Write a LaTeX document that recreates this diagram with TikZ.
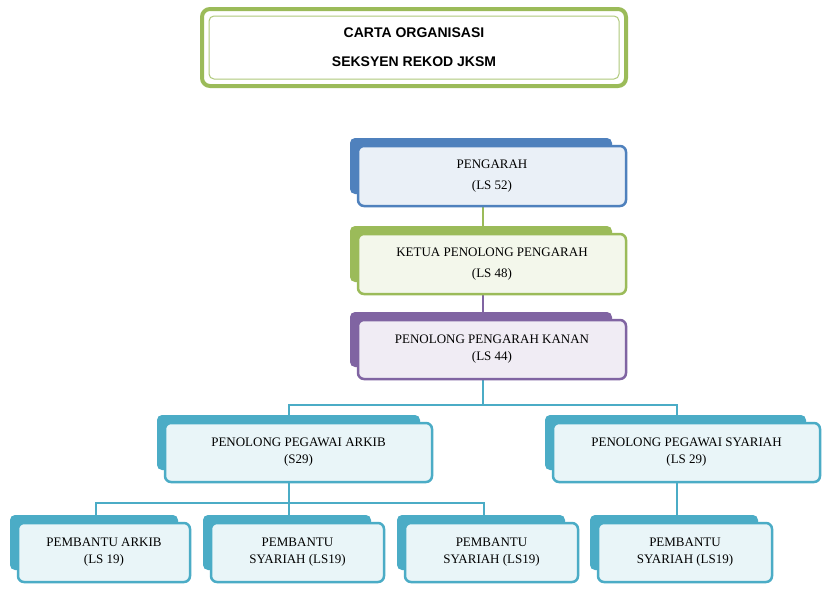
\documentclass[tikz,border=0pt]{standalone}
\usepackage{fontspec}
\setmainfont{Liberation Serif}
\newfontfamily\titlefont{Liberation Sans}
\definecolor{cblue}{HTML}{4F81BD}
\definecolor{cgreen}{HTML}{9BBB59}
\definecolor{cpurple}{HTML}{8064A2}
\definecolor{cteal}{HTML}{4BACC6}
\begin{document}
\begin{tikzpicture}[x=1pt,y=-1pt,
  lbl/.style={align=center,font=\fontsize{13}{17}\selectfont},
  conn/.style={line width=2.5pt}]
\useasboundingbox (0,0) rectangle (833,597);
\fill[white] (0,0) rectangle (833,597);
% title
\draw[cgreen,line width=4pt,rounded corners=8pt] (202,9) rectangle (626,86);
\draw[cgreen!80,line width=1pt,rounded corners=5pt] (209,16) rectangle (619,79);
\node[font=\titlefont\bfseries\fontsize{14}{17}\selectfont] (t1) at (414,33) {CARTA ORGANISASI};
\node[font=\titlefont\bfseries\fontsize{14}{17}\selectfont] (t2) at (414,62) {SEKSYEN REKOD JKSM};
% box macro
\newcommand{\obox}[8]{% name, color, bx1,by1,bx2,by2, fx1/fy1/fx2/fy2 offset, text
  \fill[#2,rounded corners=5pt] (#3,#4) rectangle (#5,#6);
  \filldraw[#2!12,draw=#2,line width=2.5pt,rounded corners=6pt] (#3+8,#4+8) rectangle (#5+#7,#6+12);
  \node[lbl] (#1) at ({(#3+8+#5+#7)/2},{(#4+8+#6+12)/2}) {#8};
  \coordinate (#1t) at ({(#3+8+#5+#7)/2},#4+8);
  \coordinate (#1b) at ({(#3+8+#5+#7)/2},#6+12);
}
\draw[cgreen,conn] (483,206) -- (483,233);
\draw[cpurple,conn] (483,294) -- (483,320);
\draw[cteal,conn] (483,379) -- (483,405);
\draw[cteal,conn] (289,415) -- (289,405) -- (677,405) -- (677,415);
\draw[cteal,conn] (289,482) -- (289,503);
\draw[cteal,conn] (96,515) -- (96,503) -- (484,503) -- (484,515);
\draw[cteal,conn] (289,503) -- (289,515);
\draw[cteal,conn] (677,482) -- (677,515);
\obox{p}{cblue}{350}{138}{612}{194}{14}{PENGARAH\\[4pt](LS 52)}
\obox{k}{cgreen}{350}{226}{612}{282}{14}{KETUA PENOLONG PENGARAH\\[4pt](LS 48)}
\obox{pk}{cpurple}{350}{312}{612}{367}{14}{PENOLONG PENGARAH KANAN\\(LS 44)}
\obox{ppa}{cteal}{157}{415}{420}{470}{12}{PENOLONG PEGAWAI ARKIB\\(S29)}
\obox{pps}{cteal}{545}{415}{806}{470}{14}{PENOLONG PEGAWAI SYARIAH\\(LS 29)}
\obox{b1}{cteal}{10}{515}{178}{570}{12}{PEMBANTU ARKIB\\(LS 19)}
\obox{b2}{cteal}{203}{515}{371}{570}{13}{PEMBANTU\\SYARIAH (LS19)}
\obox{b3}{cteal}{397}{515}{565}{570}{13}{PEMBANTU\\SYARIAH (LS19)}
\obox{b4}{cteal}{590}{515}{758}{570}{14}{PEMBANTU\\SYARIAH (LS19)}
\end{tikzpicture}
\end{document}
